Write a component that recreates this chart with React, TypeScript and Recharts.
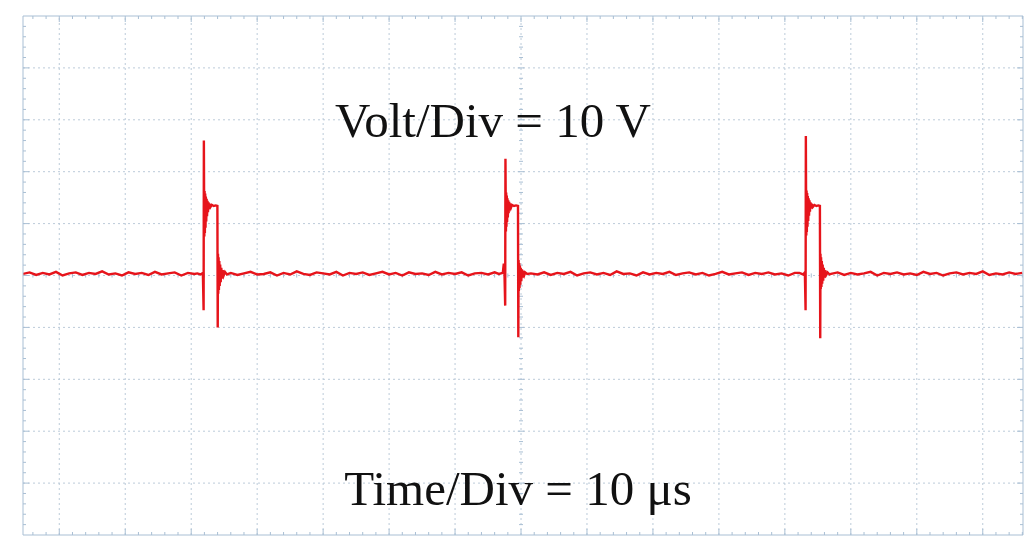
import React from 'react';
import { LineChart, Line, XAxis, YAxis, ReferenceLine } from 'recharts';

// ---- axes (time in µs, voltage in V) ----
const X_DOMAIN: [number, number] = [-75.5, 76.1];
const Y_DOMAIN: [number, number] = [-50, 50];
const X_MAJOR = [-70, -60, -50, -40, -30, -20, -10, 0, 10, 20, 30, 40, 50, 60, 70];
const Y_MAJOR = [-40, -30, -20, -10, 0, 10, 20, 30, 40];
const X_MINOR = Array.from({ length: 76 }, (_, i) => -74 + 2 * i);
const Y_MINOR = Array.from({ length: 49 }, (_, i) => -48 + 2 * i);

// ---- baseline (1 µs sampling) ----
const base1Start = -75.5;
const base1 = [0.3, 0.6, 0.1, 0.5, 0.2, 0.7, 0.0, 0.4, 0.6, 0.1, 0.5, 0.3, 0.8, 0.2, 0.4, 0.0, 0.6, 0.3, 0.5, 0.1, 0.7, 0.2, 0.4, 0.6, 0.0, 0.5, 0.3];
const base2Start = -44;
const base2 = [0.5, 0.1, 0.4, 0.7, 0.2, 0.3, 0.6, 0.0, 0.5, 0.2, 0.8, 0.3, 0.1, 0.6, 0.4, 0.2, 0.7, 0.0, 0.5, 0.3, 0.6, 0.1, 0.4, 0.7, 0.2, 0.5, 0.0, 0.6, 0.3, 0.4, 0.1, 0.7, 0.2, 0.5, 0.3, 0.6, 0.0, 0.4, 0.5, 0.2, 0.6];
const base3Start = 1.5;
const base3 = [0.4, 0.2, 0.6, 0.1, 0.5, 0.3, 0.7, 0.0, 0.4, 0.6, 0.2, 0.5, 0.1, 0.8, 0.3, 0.4, 0.0, 0.6, 0.2, 0.5, 0.3, 0.7, 0.1, 0.4, 0.6, 0.2, 0.5, 0.0, 0.3, 0.7, 0.2, 0.4, 0.6, 0.1, 0.5, 0.3, 0.6, 0.2, 0.4, 0.0, 0.5];
const base4Start = 47;
const base4 = [0.3, 0.6, 0.1, 0.5, 0.2, 0.4, 0.7, 0.0, 0.5, 0.3, 0.6, 0.2, 0.4, 0.1, 0.7, 0.3, 0.5, 0.0, 0.4, 0.6, 0.2, 0.5, 0.3, 0.8, 0.1, 0.4, 0.2, 0.6, 0.3, 0.5];

// ---- pulses: [time after rising edge (µs), volts] ----
const pulse1Rise = -48.08;
const pulse1: [number, number][] = [
  [-1.0, 0.4], [-0.5, 0.2], [-0.15, 0.5], [-0.04, -6.7], [0, 26.0], [0.03, 16.7], [0.07, 7.5], [0.11, 16.3],
  [0.15, 8.2], [0.2, 15.8], [0.25, 9.2], [0.3, 15.2], [0.36, 10.4], [0.42, 14.8], [0.48, 11.4], [0.55, 14.4],
  [0.62, 12.2], [0.7, 14.1], [0.78, 12.8], [0.88, 13.8], [1.0, 13.2], [1.2, 13.6], [1.5, 13.4], [1.8, 13.5],
  [2.05, 13.4], [2.1, -10.0], [2.14, 4.2], [2.18, -3.5], [2.23, 3.5], [2.28, -2.8], [2.34, 2.8], [2.4, -2.0],
  [2.47, 2.1], [2.55, -1.3], [2.64, 1.5], [2.74, -0.6], [2.86, 1.0], [3.0, 0.0], [3.2, 0.7], [3.5, 0.2],
];
const pulse2Rise = -2.36;
const pulse2: [number, number][] = [
  [-1.0, 0.3], [-0.4, 0.5], [-0.25, 2.3], [-0.15, 0.6], [-0.04, -5.8], [0, 22.5], [0.03, 16.5], [0.07, 8.5],
  [0.11, 16.0], [0.15, 9.4], [0.2, 15.4], [0.25, 10.3], [0.3, 14.9], [0.36, 11.2], [0.42, 14.5], [0.48, 12.0],
  [0.56, 14.2], [0.64, 12.6], [0.74, 13.9], [0.85, 13.1], [1.0, 13.6], [1.3, 13.4], [1.6, 13.5], [1.9, 13.4],
  [1.95, -11.9], [1.99, 3.0], [2.03, -3.0], [2.08, 2.4], [2.13, -2.4], [2.19, 1.9], [2.25, -1.8], [2.32, 1.5],
  [2.4, -1.1], [2.5, 1.2], [2.6, -0.4], [2.72, 0.9], [2.86, 0.1], [3.0, 0.6], [3.3, 0.3],
];
const pulse3Rise = 43.18;
const pulse3: [number, number][] = [
  [-1.0, 0.5], [-0.4, 0.2], [-0.15, 0.6], [-0.04, -6.7], [0, 26.9], [0.03, 16.8], [0.07, 7.7], [0.11, 16.4],
  [0.15, 8.4], [0.2, 15.9], [0.25, 9.4], [0.3, 15.3], [0.36, 10.5], [0.42, 14.9], [0.48, 11.5], [0.55, 14.5],
  [0.62, 12.3], [0.7, 14.1], [0.8, 12.9], [0.9, 13.8], [1.05, 13.2], [1.3, 13.6], [1.6, 13.4], [1.9, 13.5],
  [2.13, 13.4], [2.18, -12.1], [2.22, 4.2], [2.26, -2.6], [2.31, 3.5], [2.36, -2.2], [2.42, 2.8], [2.48, -1.6],
  [2.55, 2.1], [2.63, -1.0], [2.72, 1.5], [2.82, -0.4], [2.94, 1.0], [3.08, 0.1], [3.3, 0.6], [3.6, 0.2],
];

const baseline = (start: number, vals: number[]) => vals.map((v, i) => ({ t: start + i, v }));
const pulse = (rise: number, pts: [number, number][]) => pts.map(([dt, v]) => ({ t: rise + dt, v }));

const data = [
  ...baseline(base1Start, base1),
  ...pulse(pulse1Rise, pulse1),
  ...baseline(base2Start, base2),
  ...pulse(pulse2Rise, pulse2),
  ...baseline(base3Start, base3),
  ...pulse(pulse3Rise, pulse3),
  ...baseline(base4Start, base4),
].sort((a, b) => a.t - b.t);

const BORDER = '#a9bfd4';
const GRID = '#bccbd9';
const TRACE = '#e6141b';

const isMajor = (v: number) => Math.abs(v / 10 - Math.round(v / 10)) < 1e-6;

const makeTick = (side: 'top' | 'bottom' | 'left' | 'right') => (props: any) => {
  const { x, y, payload } = props;
  const len = isMajor(payload.value) ? 6 : 3;
  let x2 = x, y2 = y;
  if (side === 'bottom') y2 = y - len;
  if (side === 'top') y2 = y + len;
  if (side === 'left') x2 = x + len;
  if (side === 'right') x2 = x - len;
  return <line x1={x} y1={y} x2={x2} y2={y2} stroke={BORDER} strokeWidth={1} />;
};

export default function App() {
  return (
    <div style={{ position: 'absolute', left: 0, top: 0, width: 1035, height: 543, background: '#fff' }}>
      <LineChart width={1035} height={543} data={data} margin={{ top: 0, right: 0, bottom: 0, left: 0 }}>
        <XAxis xAxisId={0} type="number" dataKey="t" domain={X_DOMAIN} allowDataOverflow ticks={X_MAJOR}
          height={0} tick={false} tickLine={false} axisLine={false} />
        <YAxis yAxisId={0} type="number" domain={Y_DOMAIN} allowDataOverflow ticks={Y_MAJOR}
          width={0} tick={false} tickLine={false} axisLine={false} />
        <XAxis xAxisId="b" orientation="bottom" type="number" dataKey="t" domain={X_DOMAIN} allowDataOverflow
          ticks={X_MINOR} interval={0} height={8} tickSize={0} tickMargin={0} tickLine={false}
          axisLine={{ stroke: BORDER }} tick={makeTick('bottom')} />
        <XAxis xAxisId="t" orientation="top" type="number" dataKey="t" domain={X_DOMAIN} allowDataOverflow
          ticks={X_MINOR} interval={0} height={16} tickSize={0} tickMargin={0} tickLine={false}
          axisLine={{ stroke: BORDER }} tick={makeTick('top')} />
        <YAxis yAxisId="l" orientation="left" type="number" domain={Y_DOMAIN} allowDataOverflow
          ticks={Y_MINOR} interval={0} width={23} tickSize={0} tickMargin={0} tickLine={false}
          axisLine={{ stroke: BORDER }} tick={makeTick('left')} />
        <YAxis yAxisId="r" orientation="right" type="number" domain={Y_DOMAIN} allowDataOverflow
          ticks={Y_MINOR} interval={0} width={12} tickSize={0} tickMargin={0} tickLine={false}
          axisLine={{ stroke: BORDER }} tick={makeTick('right')} />
        {X_MAJOR.map((v) => (
          <ReferenceLine key={'gx' + v} xAxisId={0} yAxisId={0} x={v} stroke={GRID} strokeWidth={1}
            strokeDasharray="2 3" />
        ))}
        {Y_MAJOR.map((v) => (
          <ReferenceLine key={'gy' + v} xAxisId={0} yAxisId={0} y={v} stroke={GRID} strokeWidth={1}
            strokeDasharray="2 3" />
        ))}
        {Y_MINOR.map((v) => (
          <ReferenceLine key={'cy' + v} xAxisId={0} yAxisId={0}
            segment={[{ x: isMajor(v) ? -0.5 : -0.3, y: v }, { x: isMajor(v) ? 0.5 : 0.3, y: v }]}
            stroke={BORDER} strokeWidth={1} />
        ))}
        {X_MINOR.map((v) => (
          <ReferenceLine key={'cx' + v} xAxisId={0} yAxisId={0}
            segment={[{ x: v, y: isMajor(v) ? -0.6 : -0.4 }, { x: v, y: isMajor(v) ? 0.6 : 0.4 }]}
            stroke={BORDER} strokeWidth={1} />
        ))}
        <Line xAxisId={0} yAxisId={0} type="linear" dataKey="v" stroke={TRACE} strokeWidth={2.4}
          dot={false} activeDot={false} isAnimationActive={false} />
      </LineChart>
      <svg width={1035} height={543} style={{ position: 'absolute', left: 0, top: 0, pointerEvents: 'none' }}>
        <text x={493} y={137} textAnchor="middle" fontFamily="'Liberation Serif', 'Times New Roman', serif"
          fontSize={49} fill="#111">Volt/Div = 10 V</text>
        <text x={518} y={505} textAnchor="middle" fontFamily="'Liberation Serif', 'Times New Roman', serif"
          fontSize={49} fill="#111">Time/Div = 10 μs</text>
      </svg>
    </div>
  );
}
